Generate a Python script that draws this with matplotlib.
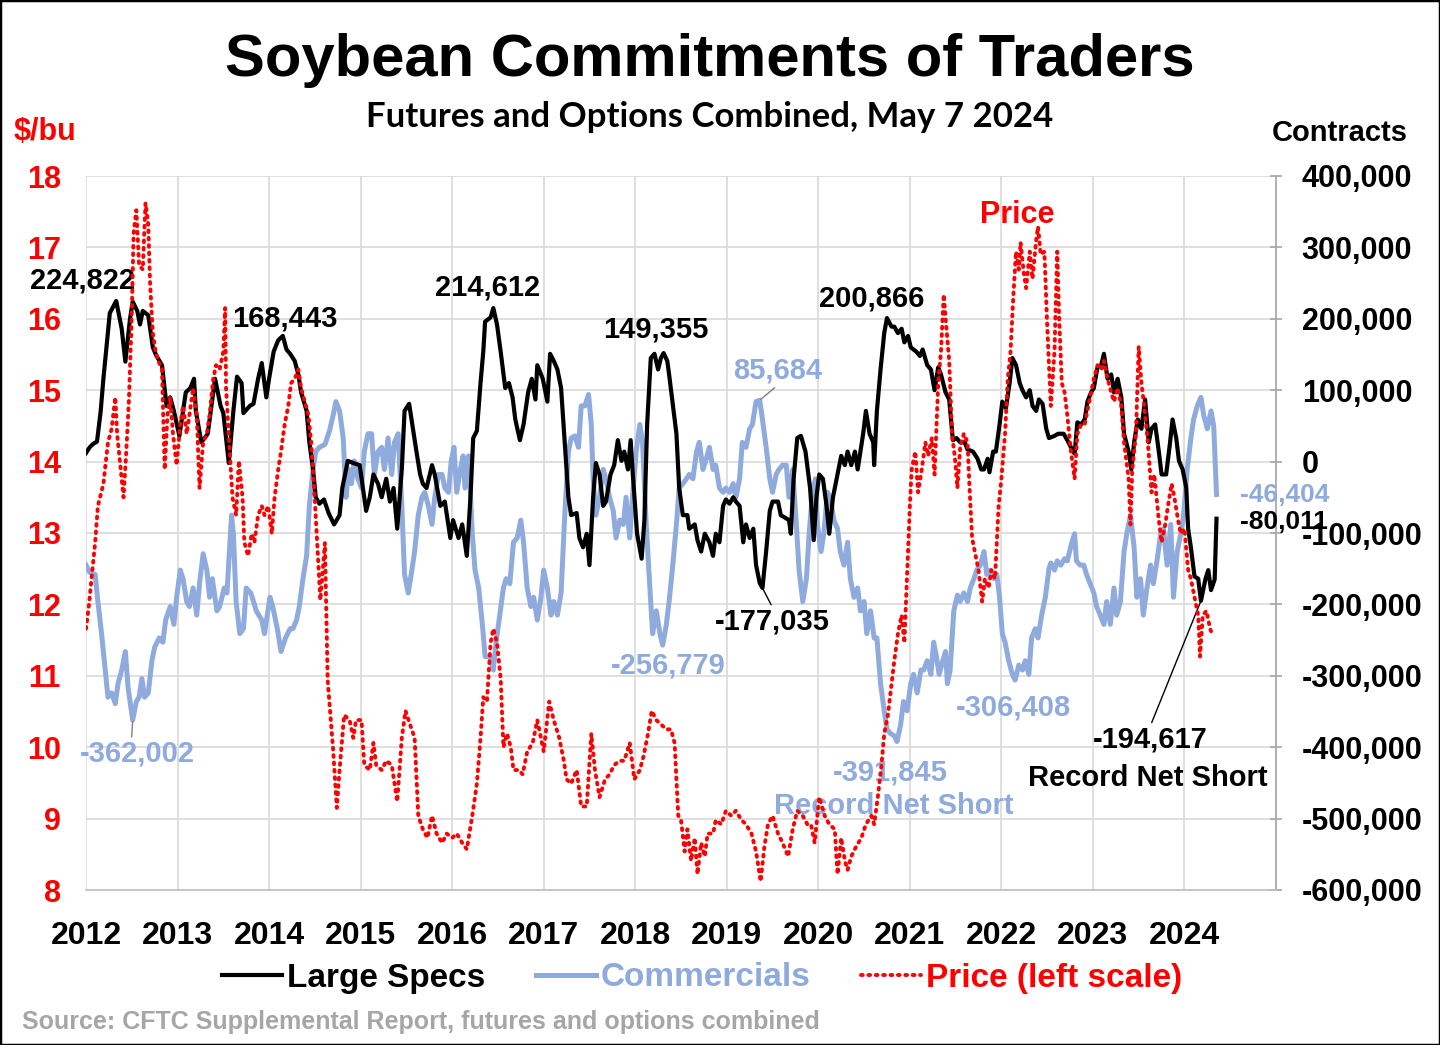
import matplotlib
matplotlib.use("Agg")
import matplotlib.pyplot as plt
from matplotlib.lines import Line2D
from matplotlib.patches import Rectangle
from matplotlib.ticker import FuncFormatter

# weekly COT readings, thinned: (decimal year, net position in 1000 contracts)
large_specs = [
    (2012.00, 12), (2012.04, 20), (2012.08, 25), (2012.12, 28), (2012.16, 70), (2012.19, 116),
    (2012.26, 208), (2012.33, 225), (2012.39, 186), (2012.43, 140), (2012.48, 199), (2012.51, 224),
    (2012.56, 211), (2012.59, 192), (2012.62, 211), (2012.68, 205), (2012.73, 160), (2012.77, 148),
    (2012.83, 135), (2012.88, 78), (2012.92, 90), (2012.96, 71), (2013.02, 36), (2013.09, 97),
    (2013.14, 103), (2013.18, 116), (2013.20, 71), (2013.26, 27), (2013.33, 39), (2013.41, 116),
    (2013.47, 78), (2013.50, 68), (2013.56, -2), (2013.61, 71), (2013.65, 119), (2013.70, 110),
    (2013.72, 68), (2013.79, 78), (2013.83, 81), (2013.88, 116), (2013.92, 138), (2013.97, 90),
    (2014.00, 116), (2014.05, 154), (2014.10, 170), (2014.15, 176), (2014.19, 157), (2014.23, 151),
    (2014.28, 141), (2014.32, 122), (2014.35, 97), (2014.41, 71), (2014.44, 27), (2014.48, -11),
    (2014.51, -50), (2014.55, -59), (2014.60, -53), (2014.65, -72), (2014.71, -88), (2014.77, -75),
    (2014.80, -37), (2014.86, 1), (2014.92, -2), (2014.99, -5), (2015.06, -69), (2015.10, -50),
    (2015.14, -18), (2015.19, -31), (2015.23, -50), (2015.28, -24), (2015.32, -56), (2015.36, -37),
    (2015.40, -94), (2015.45, -11), (2015.48, 71), (2015.53, 81), (2015.58, 39), (2015.61, 14),
    (2015.65, -18), (2015.68, -31), (2015.72, -37), (2015.78, -5), (2015.81, -18), (2015.87, -62),
    (2015.92, -56), (2015.98, -107), (2016.01, -82), (2016.07, -107), (2016.11, -88), (2016.16, -132),
    (2016.20, -50), (2016.23, 33), (2016.27, 43), (2016.31, 110), (2016.34, 154), (2016.36, 196),
    (2016.42, 202), (2016.45, 215), (2016.49, 192), (2016.53, 154), (2016.58, 103), (2016.62, 110),
    (2016.66, 90), (2016.69, 59), (2016.74, 30), (2016.78, 52), (2016.83, 97), (2016.87, 116),
    (2016.91, 87), (2016.93, 135), (2016.99, 116), (2017.04, 84), (2017.07, 151), (2017.11, 141),
    (2017.15, 129), (2017.19, 103), (2017.22, 46), (2017.27, -50), (2017.30, -75), (2017.36, -72),
    (2017.39, -107), (2017.43, -120), (2017.47, -101), (2017.50, -145), (2017.54, -50), (2017.57, -2),
    (2017.61, -18), (2017.65, -62), (2017.68, -56), (2017.73, -18), (2017.77, -5), (2017.81, 30),
    (2017.85, 1), (2017.88, 14), (2017.92, -11), (2017.95, 30), (2017.97, -11), (2018.02, -101),
    (2018.07, -136), (2018.10, -82), (2018.13, 52), (2018.17, 145), (2018.21, 151), (2018.25, 129),
    (2018.28, 145), (2018.31, 152), (2018.35, 141), (2018.37, 122), (2018.41, 81), (2018.45, 39),
    (2018.48, -37), (2018.52, -75), (2018.57, -75), (2018.59, -94), (2018.65, -88), (2018.68, -110),
    (2018.72, -126), (2018.76, -101), (2018.81, -113), (2018.85, -132), (2018.88, -101), (2018.92, -113),
    (2018.96, -62), (2018.99, -53), (2019.03, -59), (2019.07, -50), (2019.10, -56), (2019.14, -62),
    (2019.18, -113), (2019.21, -88), (2019.25, -107), (2019.29, -94), (2019.32, -145), (2019.36, -170),
    (2019.39, -177), (2019.43, -126), (2019.47, -69), (2019.50, -56), (2019.56, -56), (2019.59, -75),
    (2019.63, -78), (2019.68, -82), (2019.70, -101), (2019.73, -24), (2019.77, 33), (2019.81, 36),
    (2019.86, 14), (2019.91, -37), (2019.95, -110), (2019.98, -50), (2020.01, -18), (2020.05, -24),
    (2020.09, -62), (2020.12, -101), (2020.16, -50), (2020.20, -24), (2020.25, 8), (2020.29, -5),
    (2020.32, 14), (2020.36, -5), (2020.40, 14), (2020.43, -11), (2020.49, 39), (2020.52, 71),
    (2020.56, 39), (2020.60, 27), (2020.61, -5), (2020.64, 71), (2020.68, 129), (2020.72, 180),
    (2020.75, 201), (2020.80, 189), (2020.83, 189), (2020.87, 180), (2020.91, 186), (2020.94, 167),
    (2020.98, 176), (2021.01, 160), (2021.07, 154), (2021.11, 148), (2021.14, 157), (2021.19, 135),
    (2021.23, 129), (2021.27, 100), (2021.31, 132), (2021.34, 122), (2021.39, 97), (2021.43, 87),
    (2021.47, 30), (2021.51, 33), (2021.55, 27), (2021.60, 27), (2021.63, 17), (2021.69, 14),
    (2021.74, 4), (2021.78, -11), (2021.81, -11), (2021.85, 4), (2021.87, -15), (2021.91, 14),
    (2021.94, 14), (2021.98, 52), (2022.01, 84), (2022.05, 75), (2022.09, 110), (2022.12, 145),
    (2022.16, 135), (2022.20, 110), (2022.23, 100), (2022.27, 90), (2022.31, 100), (2022.34, 78),
    (2022.38, 71), (2022.41, 87), (2022.45, 81), (2022.49, 46), (2022.52, 33), (2022.58, 36),
    (2022.62, 39), (2022.68, 39), (2022.72, 30), (2022.76, 20), (2022.80, 11), (2022.83, 55),
    (2022.87, 52), (2022.91, 59), (2022.94, 84), (2022.98, 97), (2023.01, 103), (2023.05, 132),
    (2023.09, 135), (2023.12, 151), (2023.16, 116), (2023.20, 122), (2023.23, 97), (2023.27, 116),
    (2023.31, 90), (2023.34, 39), (2023.39, 14), (2023.42, -11), (2023.45, 27), (2023.49, 59),
    (2023.53, 46), (2023.57, 87), (2023.61, 27), (2023.64, 46), (2023.68, 52), (2023.72, 14),
    (2023.75, -18), (2023.80, -18), (2023.84, 24), (2023.87, 59), (2023.91, 33), (2023.94, 1),
    (2023.98, -11), (2024.02, -37), (2024.04, -94), (2024.07, -120), (2024.11, -161), (2024.15, -164),
    (2024.18, -195), (2024.23, -164), (2024.26, -152), (2024.29, -180), (2024.33, -165), (2024.35, -80),
]

commercials = [
    (2012.00, -145), (2012.04, -155), (2012.10, -158), (2012.13, -196), (2012.17, -241), (2012.21, -292),
    (2012.24, -330), (2012.28, -324), (2012.32, -339), (2012.35, -311), (2012.39, -292), (2012.43, -266),
    (2012.46, -317), (2012.51, -362), (2012.55, -336), (2012.58, -330), (2012.61, -304), (2012.64, -330),
    (2012.68, -324), (2012.72, -279), (2012.75, -260), (2012.80, -247), (2012.84, -253), (2012.87, -222),
    (2012.92, -203), (2012.96, -228), (2012.99, -190), (2013.03, -152), (2013.06, -164), (2013.10, -196),
    (2013.13, -203), (2013.17, -177), (2013.21, -215), (2013.24, -171), (2013.28, -129), (2013.32, -152),
    (2013.35, -190), (2013.38, -164), (2013.43, -209), (2013.46, -203), (2013.51, -177), (2013.54, -184),
    (2013.59, -75), (2013.61, -101), (2013.64, -196), (2013.68, -241), (2013.72, -234), (2013.75, -177),
    (2013.80, -184), (2013.83, -196), (2013.86, -209), (2013.92, -222), (2013.95, -241), (2014.01, -190),
    (2014.04, -203), (2014.09, -234), (2014.13, -266), (2014.18, -247), (2014.23, -234), (2014.26, -234),
    (2014.30, -222), (2014.33, -203), (2014.37, -164), (2014.41, -132), (2014.44, -62), (2014.48, -11),
    (2014.51, 14), (2014.55, 20), (2014.61, 24), (2014.66, 43), (2014.70, 65), (2014.73, 84),
    (2014.77, 71), (2014.81, 33), (2014.84, -50), (2014.87, -11), (2014.90, -31), (2014.93, 1),
    (2014.97, -24), (2015.01, -37), (2015.04, 14), (2015.08, 39), (2015.12, 39), (2015.15, -18),
    (2015.19, 14), (2015.23, 20), (2015.26, -11), (2015.30, 33), (2015.34, -18), (2015.37, 27),
    (2015.41, 39), (2015.45, -62), (2015.48, -158), (2015.52, -184), (2015.56, -152), (2015.59, -126),
    (2015.63, -75), (2015.67, -50), (2015.70, -43), (2015.74, -62), (2015.78, -88), (2015.81, -50),
    (2015.85, -18), (2015.89, -18), (2015.92, -37), (2015.96, -43), (2015.99, 1), (2016.02, 20),
    (2016.05, -43), (2016.09, -11), (2016.12, 8), (2016.14, -37), (2016.18, 8), (2016.22, -101),
    (2016.25, -152), (2016.29, -177), (2016.33, -228), (2016.36, -273), (2016.41, -273), (2016.45, -292),
    (2016.48, -253), (2016.52, -215), (2016.56, -177), (2016.59, -164), (2016.63, -171), (2016.67, -113),
    (2016.71, -107), (2016.75, -82), (2016.78, -113), (2016.82, -177), (2016.86, -203), (2016.89, -190),
    (2016.93, -222), (2016.97, -190), (2017.00, -152), (2017.04, -177), (2017.08, -215), (2017.11, -196),
    (2017.15, -215), (2017.19, -184), (2017.23, -75), (2017.27, 14), (2017.30, 33), (2017.34, 36),
    (2017.38, 20), (2017.41, 78), (2017.45, 78), (2017.49, 94), (2017.52, 52), (2017.54, -24),
    (2017.57, -75), (2017.61, -50), (2017.65, -11), (2017.68, -24), (2017.72, -50), (2017.76, -69),
    (2017.79, -107), (2017.83, -82), (2017.87, -88), (2017.90, -50), (2017.94, -107), (2017.97, -50),
    (2018.01, 14), (2018.05, 52), (2018.08, 27), (2018.12, -88), (2018.16, -177), (2018.19, -241),
    (2018.23, -209), (2018.27, -241), (2018.30, -257), (2018.34, -228), (2018.37, -196), (2018.41, -145),
    (2018.45, -88), (2018.48, -37), (2018.52, -31), (2018.56, -24), (2018.59, -18), (2018.63, -24),
    (2018.67, 14), (2018.70, 27), (2018.74, -11), (2018.77, 1), (2018.81, 20), (2018.85, -11),
    (2018.88, -5), (2018.92, -37), (2018.96, -43), (2018.99, -37), (2019.03, -43), (2019.07, -31),
    (2019.10, -50), (2019.14, -24), (2019.17, 27), (2019.21, 20), (2019.25, 46), (2019.28, 52),
    (2019.32, 84), (2019.36, 86), (2019.39, 59), (2019.43, 20), (2019.47, -24), (2019.50, -43),
    (2019.54, -18), (2019.57, -11), (2019.61, -5), (2019.65, -5), (2019.68, -50), (2019.72, -11),
    (2019.76, -88), (2019.79, -152), (2019.83, -196), (2019.87, -164), (2019.90, -101), (2019.94, -37),
    (2019.97, -24), (2019.99, -88), (2020.03, -126), (2020.06, -101), (2020.10, -43), (2020.13, -50),
    (2020.17, -82), (2020.21, -94), (2020.24, -126), (2020.28, -145), (2020.32, -113), (2020.35, -164),
    (2020.39, -190), (2020.43, -177), (2020.46, -209), (2020.50, -196), (2020.53, -241), (2020.57, -209),
    (2020.61, -247), (2020.64, -247), (2020.68, -311), (2020.72, -349), (2020.75, -375), (2020.79, -381),
    (2020.83, -384), (2020.86, -392), (2020.90, -368), (2020.93, -336), (2020.97, -349), (2021.01, -311),
    (2021.04, -298), (2021.08, -324), (2021.12, -292), (2021.15, -292), (2021.19, -279), (2021.23, -298),
    (2021.26, -253), (2021.29, -273), (2021.32, -298), (2021.36, -279), (2021.39, -266), (2021.41, -311),
    (2021.44, -292), (2021.48, -209), (2021.52, -187), (2021.55, -196), (2021.59, -184), (2021.63, -196),
    (2021.66, -177), (2021.70, -164), (2021.73, -152), (2021.77, -145), (2021.81, -126), (2021.84, -158),
    (2021.88, -152), (2021.92, -164), (2021.95, -158), (2021.98, -190), (2022.01, -241), (2022.04, -253),
    (2022.08, -279), (2022.12, -298), (2022.15, -306), (2022.19, -285), (2022.23, -292), (2022.26, -279),
    (2022.30, -298), (2022.33, -247), (2022.37, -234), (2022.40, -247), (2022.44, -215), (2022.48, -190),
    (2022.52, -150), (2022.54, -142), (2022.58, -152), (2022.61, -139), (2022.65, -145), (2022.69, -136),
    (2022.72, -139), (2022.77, -113), (2022.80, -101), (2022.82, -139), (2022.86, -145), (2022.90, -145),
    (2022.93, -158), (2022.97, -171), (2023.01, -184), (2023.04, -203), (2023.08, -215), (2023.12, -228),
    (2023.15, -196), (2023.19, -228), (2023.23, -177), (2023.26, -215), (2023.30, -196), (2023.34, -126),
    (2023.37, -101), (2023.41, -75), (2023.45, -120), (2023.48, -190), (2023.52, -164), (2023.55, -215),
    (2023.59, -177), (2023.63, -145), (2023.66, -171), (2023.70, -139), (2023.74, -101), (2023.77, -94),
    (2023.81, -145), (2023.85, -88), (2023.88, -190), (2023.92, -126), (2023.96, -101), (2023.99, -75),
    (2024.03, -11), (2024.07, 33), (2024.10, 59), (2024.14, 78), (2024.18, 90), (2024.21, 65),
    (2024.25, 46), (2024.29, 71), (2024.32, 49), (2024.35, -46),
]

# nearby soybean futures, $/bu
price = [
    (2012.00, 11.66), (2012.03, 11.97), (2012.06, 12.36), (2012.10, 12.87), (2012.13, 13.38), (2012.19, 13.69),
    (2012.24, 14.27), (2012.28, 14.46), (2012.32, 14.90), (2012.34, 14.39), (2012.37, 14.01), (2012.41, 13.50),
    (2012.44, 14.14), (2012.47, 14.90), (2012.50, 16.05), (2012.52, 17.20), (2012.55, 17.52), (2012.58, 16.75),
    (2012.62, 16.69), (2012.65, 17.62), (2012.68, 17.32), (2012.70, 16.50), (2012.73, 15.80), (2012.76, 15.54),
    (2012.79, 15.41), (2012.83, 15.29), (2012.86, 13.89), (2012.89, 14.65), (2012.92, 14.90), (2012.95, 14.39),
    (2012.99, 13.95), (2013.03, 14.52), (2013.06, 14.78), (2013.10, 14.39), (2013.13, 14.65), (2013.17, 15.03),
    (2013.21, 14.65), (2013.24, 13.63), (2013.28, 14.27), (2013.32, 14.39), (2013.35, 14.65), (2013.39, 15.16),
    (2013.42, 15.35), (2013.46, 15.29), (2013.50, 15.54), (2013.52, 16.15), (2013.53, 15.03), (2013.57, 14.14),
    (2013.60, 13.50), (2013.64, 13.25), (2013.67, 14.01), (2013.71, 13.50), (2013.73, 12.87), (2013.77, 12.68),
    (2013.81, 12.99), (2013.84, 12.87), (2013.88, 13.25), (2013.92, 13.38), (2013.95, 13.25), (2013.99, 13.38),
    (2014.03, 12.99), (2014.06, 13.50), (2014.10, 13.89), (2014.13, 14.14), (2014.17, 14.52), (2014.21, 14.78),
    (2014.24, 15.10), (2014.28, 15.16), (2014.32, 15.29), (2014.35, 15.03), (2014.39, 14.84), (2014.43, 14.65),
    (2014.46, 14.27), (2014.50, 13.46), (2014.56, 12.06), (2014.61, 12.86), (2014.64, 10.94), (2014.70, 9.96),
    (2014.74, 9.15), (2014.77, 9.68), (2014.82, 10.45), (2014.88, 10.38), (2014.92, 10.13), (2014.95, 10.38),
    (2015.01, 10.38), (2015.04, 9.75), (2015.10, 9.68), (2015.14, 10.06), (2015.17, 9.75), (2015.23, 9.68),
    (2015.28, 9.81), (2015.34, 9.75), (2015.40, 9.24), (2015.45, 10.13), (2015.49, 10.51), (2015.54, 10.32),
    (2015.59, 10.13), (2015.63, 9.04), (2015.68, 8.85), (2015.73, 8.73), (2015.78, 9.04), (2015.83, 8.79),
    (2015.89, 8.66), (2015.94, 8.79), (2016.00, 8.73), (2016.05, 8.79), (2016.11, 8.66), (2016.16, 8.57),
    (2016.22, 9.04), (2016.27, 9.49), (2016.31, 10.13), (2016.34, 10.70), (2016.38, 10.64), (2016.42, 11.46),
    (2016.45, 11.66), (2016.49, 11.46), (2016.53, 10.96), (2016.56, 10.00), (2016.60, 10.19), (2016.64, 10.00),
    (2016.67, 9.68), (2016.73, 9.68), (2016.77, 9.62), (2016.82, 9.94), (2016.88, 10.06), (2016.93, 10.38),
    (2016.97, 10.13), (2017.00, 9.94), (2017.06, 10.64), (2017.11, 10.38), (2017.17, 10.13), (2017.22, 9.81),
    (2017.25, 9.55), (2017.30, 9.49), (2017.36, 9.68), (2017.41, 9.17), (2017.47, 9.17), (2017.52, 10.19),
    (2017.56, 9.68), (2017.61, 9.30), (2017.67, 9.55), (2017.72, 9.62), (2017.77, 9.75), (2017.83, 9.81),
    (2017.88, 9.81), (2017.94, 10.06), (2017.99, 9.55), (2018.05, 9.68), (2018.09, 9.87), (2018.14, 10.19),
    (2018.18, 10.51), (2018.23, 10.38), (2018.28, 10.32), (2018.34, 10.25), (2018.39, 10.25), (2018.43, 10.06),
    (2018.47, 9.04), (2018.50, 8.98), (2018.54, 8.54), (2018.57, 8.85), (2018.61, 8.41), (2018.65, 8.73),
    (2018.68, 8.22), (2018.72, 8.66), (2018.76, 8.47), (2018.79, 8.79), (2018.85, 8.79), (2018.88, 8.98),
    (2018.94, 8.92), (2018.99, 9.11), (2019.05, 9.04), (2019.10, 9.11), (2019.16, 8.98), (2019.21, 8.92),
    (2019.27, 8.79), (2019.32, 8.54), (2019.37, 8.12), (2019.41, 8.60), (2019.45, 8.92), (2019.50, 9.04),
    (2019.56, 8.79), (2019.61, 8.66), (2019.67, 8.47), (2019.72, 8.85), (2019.77, 9.11), (2019.83, 9.04),
    (2019.88, 8.92), (2019.92, 8.92), (2019.96, 8.66), (2020.01, 9.30), (2020.07, 9.04), (2020.12, 8.92),
    (2020.18, 8.85), (2020.21, 8.22), (2020.25, 8.73), (2020.29, 8.41), (2020.32, 8.28), (2020.36, 8.47),
    (2020.41, 8.60), (2020.47, 8.73), (2020.52, 8.92), (2020.58, 9.04), (2020.61, 8.92), (2020.65, 9.30),
    (2020.69, 9.75), (2020.72, 10.19), (2020.76, 10.45), (2020.80, 10.89), (2020.83, 11.21), (2020.87, 11.59),
    (2020.91, 11.85), (2020.94, 11.46), (2020.97, 12.42), (2021.00, 13.38), (2021.02, 13.89), (2021.06, 14.14),
    (2021.09, 13.57), (2021.13, 13.89), (2021.17, 14.27), (2021.20, 14.08), (2021.24, 14.33), (2021.27, 13.82),
    (2021.31, 15.10), (2021.34, 15.54), (2021.37, 16.34), (2021.40, 15.86), (2021.43, 15.41), (2021.46, 14.39),
    (2021.49, 14.08), (2021.52, 13.63), (2021.55, 14.20), (2021.59, 14.39), (2021.63, 14.27), (2021.65, 13.69),
    (2021.68, 12.93), (2021.71, 12.74), (2021.75, 12.48), (2021.79, 12.04), (2021.82, 12.36), (2021.86, 12.23),
    (2021.89, 12.48), (2021.93, 12.36), (2021.97, 13.38), (2022.00, 13.76), (2022.04, 14.39), (2022.07, 15.16),
    (2022.10, 15.54), (2022.13, 16.31), (2022.16, 16.94), (2022.19, 16.69), (2022.21, 17.07), (2022.24, 16.69),
    (2022.27, 16.43), (2022.31, 16.94), (2022.34, 16.56), (2022.38, 17.10), (2022.40, 17.29), (2022.43, 16.90),
    (2022.47, 16.94), (2022.50, 15.92), (2022.54, 14.78), (2022.58, 15.54), (2022.61, 16.94), (2022.63, 16.05),
    (2022.66, 15.10), (2022.69, 14.97), (2022.72, 14.65), (2022.76, 14.14), (2022.80, 13.76), (2022.83, 14.39),
    (2022.87, 14.52), (2022.91, 14.52), (2022.94, 14.71), (2022.98, 14.97), (2023.01, 15.16), (2023.05, 15.35),
    (2023.09, 15.29), (2023.12, 15.41), (2023.16, 15.16), (2023.20, 14.97), (2023.23, 14.84), (2023.27, 15.03),
    (2023.31, 14.78), (2023.34, 14.27), (2023.39, 13.76), (2023.41, 13.12), (2023.43, 13.89), (2023.47, 14.39),
    (2023.50, 15.61), (2023.53, 15.10), (2023.56, 14.78), (2023.60, 14.27), (2023.64, 13.57), (2023.67, 13.82),
    (2023.72, 13.18), (2023.75, 12.87), (2023.79, 13.12), (2023.82, 13.38), (2023.86, 13.69), (2023.89, 13.50),
    (2023.93, 13.18), (2023.96, 12.99), (2024.00, 13.06), (2024.04, 12.48), (2024.07, 12.36), (2024.11, 12.10),
    (2024.15, 11.85), (2024.17, 11.27), (2024.20, 11.85), (2024.24, 11.91), (2024.28, 11.66), (2024.30, 11.59),
]

years = list(range(2012, 2025))
contract_ticks = list(range(-600, 401, 100))
price_ticks = list(range(8, 19))

spec_t, spec_k = zip(*large_specs)
comm_t, comm_k = zip(*commercials)
price_t, price_v = zip(*price)


def extreme(t, v, lo, hi, fn):
    # index of the max/min of v with lo <= t < hi
    idx = [j for j in range(len(t)) if lo <= t[j] < hi]
    return fn(idx, key=lambda j: v[j])


BLUE = "#8FAADC"
GRID = "#D9D9D9"
DOTS = (0, (0.45, 1.45))
plt.rcParams["font.family"] = ["Liberation Sans", "DejaVu Sans"]

fig = plt.figure(figsize=(14.4, 10.45), dpi=100)
ax = fig.add_axes([86 / 1440, 1 - 890 / 1045, 1190 / 1440, 714 / 1045])
axp = ax.twinx()

ax.set_xlim(2012, 2025)
ax.set_ylim(-600, 400)
axp.set_ylim(8, 18)

ax.set_xticks(years + [2025])
ax.set_xticklabels([str(y) for y in years] + [""])
ax.set_yticks(contract_ticks)
ax.yaxis.set_major_formatter(FuncFormatter(lambda v, p: f"{int(round(v * 1000)):,}"))
ax.yaxis.tick_right()
axp.set_yticks(price_ticks)
axp.yaxis.tick_left()

ax.grid(True, color=GRID, lw=1.2)
ax.set_axisbelow(True)
for s in ["top", "left"]:
    ax.spines[s].set_visible(False)
ax.spines["right"].set_color("#A6A6A6")
ax.spines["bottom"].set_color("#BFBFBF")
ax.spines["right"].set_linewidth(1.2)
ax.spines["bottom"].set_linewidth(1.2)
for s in axp.spines.values():
    s.set_visible(False)

ax.tick_params(axis="x", length=0, pad=22, labelsize=23)
ax.tick_params(axis="y", direction="inout", length=9, color="#A6A6A6", width=1.2, pad=14,
               labelsize=22, labelcolor="black")
axp.tick_params(axis="y", length=0, pad=18, labelsize=22, labelcolor="red")
for lab in ax.get_xticklabels() + ax.get_yticklabels() + axp.get_yticklabels():
    lab.set_fontweight("bold")

ax.plot(comm_t, comm_k, color=BLUE, lw=3.6, solid_joinstyle="round", zorder=2)
ax.plot(spec_t, spec_k, color="black", lw=3.0, solid_joinstyle="round", zorder=3)
axp.plot(price_t, price_v, color="red", lw=2.8, linestyle=DOTS,
         dash_capstyle="round", zorder=4)

# data labels
bold = dict(fontweight="bold", fontsize=21, ha="center", va="center")
ax.text(2011.96, 253, "224,822", color="black", **bold)
ax.text(2014.17, 200, "168,443", color="black", **bold)
ax.text(2016.385, 244, "214,612", color="black", **bold)
ax.text(2018.22, 185, "149,355", color="black", **bold)
ax.text(2020.58, 228, "200,866", color="black", **bold)
ax.text(2018.36, -286, "-256,779", color=BLUE, **bold)
ax.text(2022.13, -344, "-306,408", color=BLUE, **bold)
ax.text(2020.79, -436, "-391,845", color=BLUE, **bold)
ax.text(2020.82, -483, "Record Net Short", color=BLUE, **bold)
ax.text(2023.60, -443, "Record Net Short", color="black", **bold)
# end-of-series values, squeezed against the right axis as in the source
ax.text(2025.10, -47, "-46,404", color=BLUE, fontweight="bold", fontsize=19, ha="center", va="center")
ax.text(2025.09, -84, "-80,011", color="black", fontweight="bold", fontsize=19, ha="center", va="center")
axp.text(2022.17, 17.45, "Price", color="red", fontweight="bold", fontsize=22, ha="center", va="center")

lead = dict(arrowstyle="-", color="#7F7F7F", lw=1.0, shrinkA=0, shrinkB=1)
i = extreme(comm_t, comm_k, 2019, 2020, max)
ax.annotate("85,684", xy=(comm_t[i], comm_k[i]), xytext=(2019.56, 127), color=BLUE,
            arrowprops=dict(lead, relpos=(0.5, 0.0)), **bold)
i = extreme(comm_t, comm_k, 2012, 2013, min)
ax.annotate("-362,002", xy=(comm_t[i], comm_k[i]), xytext=(2012.56, -409), color=BLUE,
            arrowprops=dict(lead, relpos=(0.45, 1.0)), **bold)
i = extreme(spec_t, spec_k, 2019, 2020, min)
ax.annotate("-177,035", xy=(spec_t[i], spec_k[i]), xytext=(2019.50, -224), color="black",
            arrowprops=dict(lead, color="black", relpos=(0.5, 1.0)), **bold)
i = extreme(spec_t, spec_k, 2024, 2025, min)
ax.annotate("-194,617", xy=(spec_t[i], spec_k[i]), xytext=(2023.63, -389), color="black",
            arrowprops=dict(lead, color="black", relpos=(0.5, 1.0)), **bold)

# titles and axis captions
fig.text(0.493, 1 - 60 / 1045, "Soybean Commitments of Traders", ha="center", va="center",
         fontsize=43, fontweight="bold")
fig.text(0.493, 1 - 117 / 1045, "Futures and Options Combined, May 7 2024", ha="center",
         va="center", fontsize=25, fontweight="bold", family=["Lato", "Liberation Sans"])
fig.text(45 / 1440, 1 - 132 / 1045, "$/bu", ha="center", va="center", color="red",
         fontsize=22, fontweight="bold")
fig.text(1340 / 1440, 1 - 133 / 1045, "Contracts", ha="center", va="center",
         fontsize=21, fontweight="bold")
fig.text(22 / 1440, 1 - 1022 / 1045, "Source: CFTC Supplemental Report, futures and options combined",
         ha="left", va="center", color="#A6A6A6", fontsize=18, fontweight="bold")

handles = [Line2D([], [], color="black", lw=3.0),
           Line2D([], [], color=BLUE, lw=3.6),
           Line2D([], [], color="red", lw=2.8, linestyle=DOTS, dash_capstyle="round")]
leg = fig.legend(handles, ["Large Specs", "Commercials", "Price (left scale)"], loc="center",
                 bbox_to_anchor=(702 / 1440, 1 - 978 / 1045), ncol=3, frameon=False,
                 prop=dict(weight="bold", size=24), handlelength=1.8,
                 handletextpad=0.15, columnspacing=1.5)
for txt, col in zip(leg.get_texts(), ["black", BLUE, "red"]):
    txt.set_color(col)

fig.patches.append(Rectangle((0, 0), 1, 1, transform=fig.transFigure, fill=False,
                             ec="black", lw=2.5))

fig.savefig("out.png", dpi=100)
